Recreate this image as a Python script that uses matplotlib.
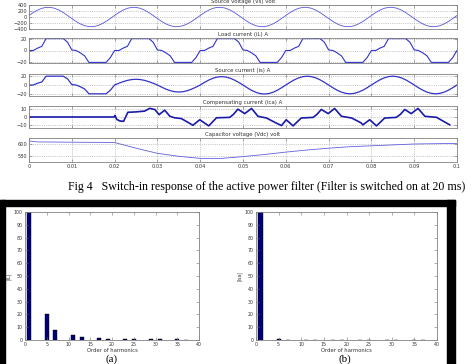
import numpy as np
import matplotlib
matplotlib.use("Agg")
import matplotlib.pyplot as plt
from matplotlib.patches import Rectangle

# ---- waveform data (sampled every 1 ms, 0 .. 0.1 s) ----
t = np.arange(0, 101) / 1000.0

v_source = [51, 148, 230, 290, 321, 321, 290, 230, 148, 51, -51, -148, -230, -290, -321, -321, -290, -230, -148, -51,
            51, 148, 230, 290, 321, 321, 290, 230, 148, 51, -51, -148, -230, -290, -321, -321, -290, -230, -148, -51,
            51, 148, 230, 290, 321, 321, 290, 230, 148, 51, -51, -148, -230, -290, -321, -321, -290, -230, -148, -51,
            51, 148, 230, 290, 321, 321, 290, 230, 148, 51, -51, -148, -230, -290, -321, -321, -290, -230, -148, -51,
            51, 148, 230, 290, 321, 321, 290, 230, 148, 51, -51, -148, -230, -290, -321, -321, -290, -230, -148, -51,
            51]

i_load = [0, 0, 4, 7, 20, 20, 20, 20, 20, 14, 1, 0, -4, -9, -20, -20, -20, -20, -20, -12,
          0, 0, 4, 7, 20, 20, 20, 20, 20, 14, 1, 0, -4, -9, -20, -20, -20, -20, -20, -12,
          0, 0, 4, 7, 20, 20, 20, 20, 20, 14, 1, 0, -4, -9, -20, -20, -20, -20, -20, -12,
          0, 0, 4, 7, 20, 20, 20, 20, 20, 14, 1, 0, -4, -9, -20, -20, -20, -20, -20, -12,
          0, 0, 4, 7, 20, 20, 20, 20, 20, 14, 1, 0, -4, -9, -20, -20, -20, -20, -20, -12,
          0]

i_source = [0, 0, 4, 7, 20, 20, 20, 20, 20, 14, 1, 0, -4, -9, -20, -20, -20, -20, -20, -12,
            0, 4.0, 7.6, 10.5, 12.4, 13, 12.4, 10.5, 7.6, 4.0, 0, -4.9, -9.4, -12.9, -15.2, -16, -15.2, -12.9, -9.4, -4.9,
            0, 5.9, 11.2, 15.4, 18.1, 19, 18.1, 15.4, 11.2, 5.9, 0, -6.3, -12.1, -16.6, -19.5, -20.5, -19.5, -16.6, -12.1, -6.3,
            0, 6.2, 11.8, 16.2, 19.0, 20, 19.0, 16.2, 11.8, 6.2, 0, -6.2, -11.8, -16.2, -19.0, -20, -19.0, -16.2, -11.8, -6.2,
            0, 6.2, 11.8, 16.2, 19.0, 20, 19.0, 16.2, 11.8, 6.2, 0, -6.2, -11.8, -16.2, -19.0, -20, -19.0, -16.2, -11.8, -6.2,
            0]

# compensating current, read point by point
t_comp = [0, 0.0199, 0.0201, 0.0205, 0.0212, 0.0221, 0.0231, 0.025, 0.027, 0.0282, 0.0294, 0.0304, 0.0317,
          0.0329, 0.034, 0.0356, 0.0372, 0.0383, 0.0399, 0.042, 0.0438, 0.0469, 0.0478, 0.0488, 0.0504,
          0.052, 0.0535, 0.0555, 0.0578, 0.059, 0.0601, 0.0617, 0.0636, 0.0664, 0.0673, 0.0683, 0.0699,
          0.0714, 0.073, 0.0754, 0.0776, 0.078, 0.0796, 0.0812, 0.0831, 0.0858, 0.0868, 0.0878, 0.0893,
          0.0909, 0.0925, 0.0952, 0.0983]
i_comp = [0, 0, 2, -3, -5, -5.5, 6, 6.5, 7.5, 11, 9.5, 3, 8.7,
          1, -1, -2, -7, -10.5, -3.5, -11.3, -1, -0.5, 3.5, 10, 4.3,
          10.9, 0.9, -1.3, -7.8, -10.9, -3.5, -11.3, -1.3, -0.5, 3.5, 9.6, 4.3,
          10.9, 0.9, -1.3, -7.5, -10, -3.5, -11.3, -1.3, -0.5, 3.5, 9.6, 4.3,
          10.9, 0.9, -0.4, -10]

t_vdc = [0, 0.002, 0.01, 0.02, 0.025, 0.03, 0.035, 0.04, 0.045, 0.05, 0.055, 0.06, 0.065,
         0.07, 0.075, 0.08, 0.085, 0.09, 0.095, 0.1]
v_dc = [605, 603.5, 603, 602.5, 593, 584.5, 579.5, 576, 576, 579, 582.5, 586.5, 590,
        593, 595.5, 597, 598.5, 600, 600.5, 601]

# ---- harmonic spectra ----
orders = [1, 5, 7, 11, 13, 17, 19, 23, 25, 29, 31, 35, 37]
load_spectrum = [100, 20, 7.8, 3.8, 2.7, 1.4, 0.8, 0.8, 0.5, 0.4, 0.4, 0.4, 0.3]
source_spectrum = [100, 0.6, 0.3, 0.3, 0.3, 0.2, 0.2, 0.2, 0.3, 0.2, 0.3, 0.2, 0.2]

titles = ["Source voltage (Vs) volt", "Load current (iL) A", "Source current (is) A",
          "Compensating current (ica) A", "Capacitor voltage (Vdc) volt"]

W, H = 474, 364
fig = plt.figure(figsize=(W / 100, H / 100), dpi=100)


def px_axes(x0, y0, x1, y1):
    return fig.add_axes([x0 / W, 1 - y1 / H, (x1 - x0) / W, (y1 - y0) / H])


def matlab_look(ax, fs=3.6):
    for s in ax.spines.values():
        s.set_color("#808080")
        s.set_linewidth(0.6)
    ax.tick_params(direction="in", length=2, width=0.4, labelsize=fs, colors="#707070",
                   labelcolor="#333333", top=True, right=True, pad=1.5)


# ---- top figure: five stacked panels ----
rows = [(5, 29), (38, 63), (74, 96), (106, 128), (138, 162)]
series = [(t, v_source), (t, i_load), (t, i_source), (t_comp, i_comp), (t_vdc, v_dc)]
ylims = [(-400, 400), (-21, 21), (-25, 25), (-14, 14), (570, 610)]
yticks = [[-400, -200, 0, 200, 400], [-20, 0, 20], [-20, 0, 20], [-10, 0, 10], [580, 600]]
colors = ["#5555dd", "#3333cc", "#3333c8", "#1a1aa8", "#6060e0"]
widths = [0.6, 0.8, 0.9, 1.2, 0.6]

for i, (y0, y1) in enumerate(rows):
    ax = px_axes(29, y0, 457, y1)
    x, y = series[i]
    ax.plot(x, y, color=colors[i], lw=widths[i])
    ax.set_xlim(0, 0.1)
    ax.set_ylim(*ylims[i])
    ax.set_yticks(yticks[i])
    ax.set_xticks(np.arange(0, 0.101, 0.01))
    ax.grid(True, linestyle=":", color="#9a9a9a", linewidth=0.5)
    matlab_look(ax)
    ax.set_title(titles[i], fontsize=3.9, pad=1.2, color="#333333")
    if i < 4:
        ax.set_xticklabels([])
    else:
        ax.set_xticklabels(["0", "0.01", "0.02", "0.03", "0.04", "0.05",
                            "0.06", "0.07", "0.08", "0.09", "0.1"])

fig.text(68 / W, 1 - 187 / H,
         "Fig 4   Switch-in response of the active power filter (Filter is switched on at 20 ms)",
         fontfamily="Liberation Serif", fontsize=8.6, ha="left", va="center")

# ---- black scan border around the lower figure ----
for (x0, y0, w, h) in [(0, 200, 455, 6), (0, 200, 5, 164), (447, 200, 8, 164)]:
    fig.patches.append(Rectangle((x0 / W, 1 - (y0 + h) / H), w / W, h / H,
                                 transform=fig.transFigure, color="black", zorder=0))

# ---- lower figure: harmonic spectra ----
spectra = [(25, 199, load_spectrum, "|IL|", "(a)", 112),
           (256, 437, source_spectrum, "|Isa|", "(b)", 345)]
for (x0, x1, mags, ylab, tag, tag_x) in spectra:
    ax = px_axes(x0, 212, x1, 340)
    ax.bar(orders, mags, width=0.9, color="#00007a", edgecolor="black", linewidth=0.3)
    ax.set_xlim(0, 40)
    ax.set_ylim(0, 100)
    ax.set_xticks(range(0, 41, 5))
    ax.set_yticks(range(0, 101, 10))
    matlab_look(ax, fs=3.4)
    ax.set_xlabel("Order of harmonics", fontsize=3.8, labelpad=0.5, color="#333333")
    ax.set_ylabel(ylab, fontsize=3.4, labelpad=2, color="#333333")
    fig.text(tag_x / W, 1 - 359.5 / H, tag, fontfamily="Liberation Serif", fontsize=7.8,
             ha="center", va="center")

fig.savefig("out.png", dpi=100)
